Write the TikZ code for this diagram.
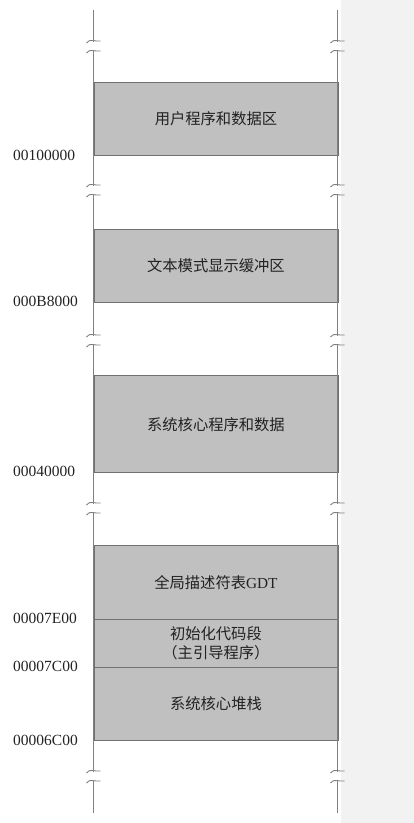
\documentclass[tikz,border=0pt]{standalone}
\usepackage{fontspec}
\setmainfont{Liberation Serif}
\newfontfamily\cjk{Noto Sans CJK SC}
\definecolor{boxfill}{HTML}{C0C0C0}
\definecolor{edge}{HTML}{707070}
\definecolor{vline}{HTML}{808080}
\definecolor{panel}{HTML}{F2F2F2}
\definecolor{txt}{HTML}{222222}
\tikzset{
  membox/.style={draw=edge, line width=0.9pt, fill=boxfill, minimum width=244pt, inner sep=0pt, anchor=north west},
  boxtext/.style={font=\fontsize{15.3}{19}\selectfont\cjk, text=txt, align=center},
  addr/.style={font=\fontsize{15.5}{17}\selectfont, text=txt, anchor=west, inner sep=0pt},
  axis/.style={draw=vline, line width=0.9pt},
}
\newcommand{\brk}[2]{%
  \draw[axis] (#1-7,#2-3) .. controls (#1-4,#2-8) and (#1+2,#2-4) .. (#1+7,#2-5);
  \draw[axis] (#1-7,#2+7) .. controls (#1-4,#2+2) and (#1+2,#2+6) .. (#1+7,#2+5);
}
\begin{document}
\begin{tikzpicture}[x=1pt,y=-1pt]
\useasboundingbox (0,0) rectangle (414,823);
\fill[panel] (341,0) rectangle (414,823);
% boxes
\node[membox, minimum height=73pt] (b1) at (93.5,82) {};
\node[membox, minimum height=73pt] (b2) at (93.5,229) {};
\node[membox, minimum height=97pt] (b3) at (93.5,375) {};
\node[membox, minimum height=74pt] (b4) at (93.5,545) {};
\node[membox, minimum height=48pt] (b5) at (93.5,619) {};
\node[membox, minimum height=73pt] (b6) at (93.5,667) {};
\node[boxtext] at (b1.center) {用户程序和数据区};
\node[boxtext] at (b2.center) {文本模式显示缓冲区};
\node[boxtext] at ([yshift=-1pt]b3.center) {系统核心程序和数据};
\node[boxtext] at (b4.center) {全局描述符表{\rmfamily GDT}};
\node[boxtext] at (b5.center) {初始化代码段\\（主引导程序）};
\node[boxtext] at (b6.center) {系统核心堆栈};
% axes with breaks
\foreach \x in {93.5,337.5}{
  \draw[axis] (\x,10) -- (\x,42);
  \draw[axis] (\x,51) -- (\x,186);
  \draw[axis] (\x,195) -- (\x,336);
  \draw[axis] (\x,345) -- (\x,504);
  \draw[axis] (\x,513) -- (\x,772);
  \draw[axis] (\x,781) -- (\x,813);
  \brk{\x}{46}
  \brk{\x}{190}
  \brk{\x}{340}
  \brk{\x}{508}
  \brk{\x}{776}
}
% addresses
\node[addr] (a1) at (13,155) {00100000};
\node[addr] (a2) at (13,301) {000B8000};
\node[addr] (a3) at (13,471) {00040000};
\node[addr] (a4) at (13,618) {00007E00};
\node[addr] (a5) at (13,666) {00007C00};
\node[addr] (a6) at (13,740) {00006C00};
\end{tikzpicture}
\end{document}
